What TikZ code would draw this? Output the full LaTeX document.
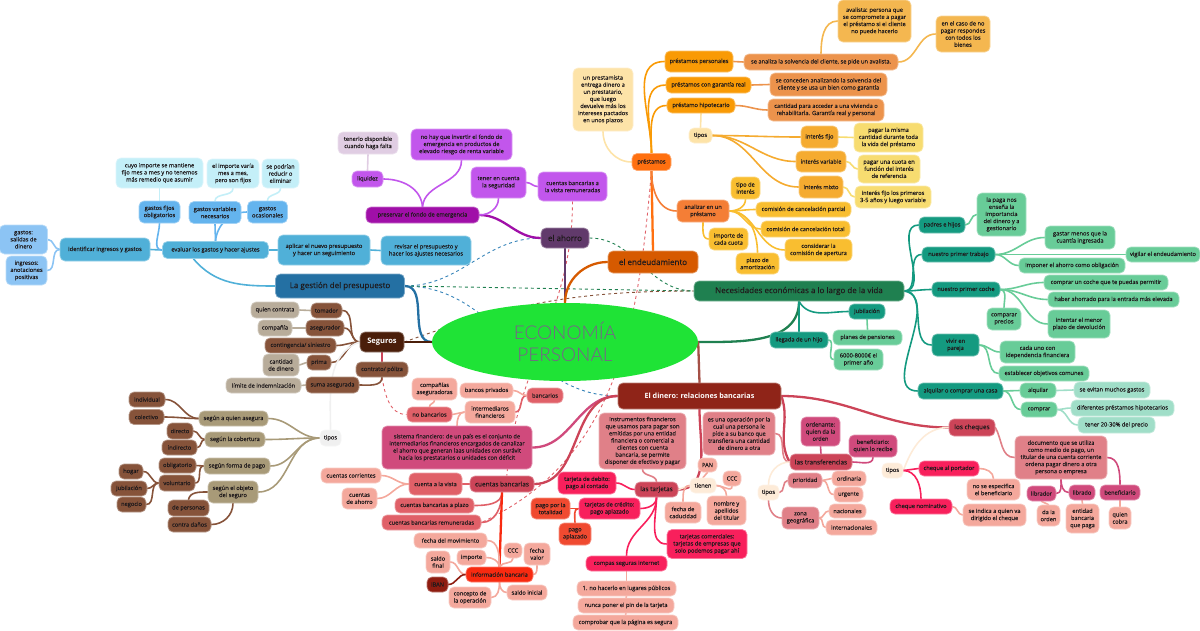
\documentclass[tikz,border=0pt]{standalone}
\usepackage{fontspec}
\setmainfont[UprightFeatures={FakeBold=0.08}]{Open Sans}
\newfontfamily\handfont{Lato Light}
\usetikzlibrary{backgrounds,shapes.geometric}
% colours
\definecolor{ink}{HTML}{1F1A1C}
\definecolor{gesA}{HTML}{2470A3}\definecolor{gesB}{HTML}{50B0D8}\definecolor{gesC}{HTML}{64B4EE}
\definecolor{gesD}{HTML}{8CC4F4}\definecolor{gesE}{HTML}{C4EFF8}
\definecolor{ahoA}{HTML}{613A6B}\definecolor{ahoB}{HTML}{A00FA8}\definecolor{ahoC}{HTML}{C256EC}\definecolor{ahoD}{HTML}{E0CDE3}
\definecolor{endA}{HTML}{D65A00}\definecolor{endB}{HTML}{FF7010}\definecolor{endC}{HTML}{F99A05}\definecolor{endD}{HTML}{EC934C}
\definecolor{endE}{HTML}{F4B750}\definecolor{endF}{HTML}{FDE3A8}\definecolor{endG}{HTML}{F5AB30}\definecolor{endH}{HTML}{F7DC70}
\definecolor{endI}{HTML}{F47E36}\definecolor{endJ}{HTML}{F9BE30}
\definecolor{necA}{HTML}{1F8050}\definecolor{necB}{HTML}{149A80}\definecolor{necC}{HTML}{68CC98}\definecolor{necD}{HTML}{A0DEC8}
\definecolor{segA}{HTML}{4A1E0A}\definecolor{segB}{HTML}{86533A}\definecolor{segC}{HTML}{B8AC9A}\definecolor{segD}{HTML}{A89A78}\definecolor{segE}{HTML}{F0F0F0}
\definecolor{dinA}{HTML}{8F2418}\definecolor{dinB}{HTML}{D04A7C}\definecolor{dinC}{HTML}{E06068}\definecolor{dinD}{HTML}{F4A89C}
\definecolor{dinE}{HTML}{CC4458}\definecolor{dinF}{HTML}{F82A10}\definecolor{dinG}{HTML}{8E1C10}\definecolor{dinH}{HTML}{F8205C}
\definecolor{dinI}{HTML}{F04A30}\definecolor{dinJ}{HTML}{E08088}\definecolor{dinK}{HTML}{FDEBD8}
\definecolor{centro}{HTML}{1FE336}\definecolor{centrotxt}{HTML}{7B5E8C}
\tikzset{
  box/.style={fill=#1, draw=#1!60!white, line width=0.7, rounded corners=5, inner sep=0, align=center, text=ink,
    font=\fontsize{5.7}{7.1}\selectfont},
  sz/.style 2 args={minimum width=#1, minimum height=#2},
  big/.style={font=\fontsize{8}{10}\selectfont},
  mid/.style={font=\fontsize{6.4}{8}\selectfont},
  lk/.style={draw=#1, line width=1.6, line cap=round},
  thk/.style={line width=2.3},
  cross/.style={draw=#1, line width=0.9, dash pattern=on 3pt off 3pt},
}
\begin{document}
\begin{tikzpicture}[x=1pt,y=-1pt]
    \useasboundingbox (0,0) rectangle (1200,630);
    \node[ellipse, fill=centro, inner sep=0, minimum width=266, minimum height=78, align=center, text=centrotxt,
      font=\handfont\fontsize{19}{22}\selectfont] (econ) at (565,342) {ECONOMÍA\\PERSONAL};
    % La gestion del presupuesto
    \node[box=gesA, big, sz={129}{24}] (gestion) at (340,286) {La gestión del presupuesto};
    \node[box=gesB, sz={106}{17}] (evaluar) at (215.5,250) {evaluar los gastos y hacer ajustes};
    \node[box=gesB, sz={90}{23}] (identificar) at (105,249.5) {identificar ingresos y gastos};
    \node[box=gesD, sz={48}{29}] (salidas) at (23.5,239.5) {gastos:\\salidas de\\dinero};
    \node[box=gesD, sz={41}{29}] (ingresos) at (26.5,270.5) {ingresos:\\anotaciones\\positivas};
    \node[box=gesC, sz={41}{22}] (gfijos) at (159.5,212) {gastos fijos\\obligatorios};
    \node[box=gesC, sz={52}{22}] (gvariables) at (215,212.5) {gastos variables\\necesarios};
    \node[box=gesC, sz={40}{22}] (gocasion) at (267.5,212) {gastos\\ocasionales};
    \node[box=gesE, sz={87}{30}] (cuyo) at (159.5,173) {cuyo importe se mantiene\\fijo mes a mes y no tenemos\\más remedio que asumir};
    \node[box=gesE, sz={52}{29}] (varia) at (233,173.5) {el importe varía\\mes a mes,\\pero son fijos};
    \node[box=gesE, sz={37}{29}] (reducir) at (280.5,173.5) {se podrían\\reducir o\\eliminar};
    \node[box=gesB, sz={92}{30}] (aplicar) at (324,250) {aplicar el nuevo presupuesto\\y hacer un seguimiento};
    \node[box=gesB, sz={90}{29}] (revisar) at (426,250.5) {revisar el presupuesto y\\hacer los ajustes necesarios};
    % el ahorro
    \node[box=ahoA, big, sz={48}{20}] (ahorro) at (565,238) {el ahorro};
    \node[box=ahoB, sz={113}{16}] (preservar) at (422.5,215) {preservar el fondo de emergencia};
    \node[box=ahoC, sz={31}{16}] (liquidez) at (367.5,179) {liquidez};
    \node[box=ahoD, sz={60}{22}] (tenerlo) at (368,143) {tenerlo disponible\\cuando haga falta};
    \node[box=ahoC, sz={101}{31}] (nohay) at (461.5,144.5) {no hay que invertir el fondo de\\emergencia en productos de\\elevado riesgo de renta variable};
    \node[box=ahoC, sz={55}{31}] (seguridad) at (498.5,182.5) {tener en cuenta\\la seguridad};
    \node[box=ahoC, sz={69}{29}] (remun) at (572.5,186.5) {cuentas bancarias a\\la vista remuneradas};
    % el endeudamiento
    \node[box=endA, big, sz={90}{22}] (endeud) at (653,262) {el endeudamiento};
    \node[box=endB, sz={39}{17}] (prestamos) at (651.5,162) {préstamos};
    \node[box=endF, sz={60}{63}] (prestamista) at (603,99.5) {un prestamista\\entrega dinero a\\un prestatario,\\que luego\\devuelve más los\\intereses pactados\\en unos plazos};
    \node[box=endC, sz={68}{21}] (ppersonal) at (699,61.5) {préstamos personales};
    \node[box=endC, sz={85}{16}] (pgarantia) at (708.5,85) {préstamos con garantía real};
    \node[box=endC, sz={68}{15}] (phipo) at (701,105.5) {préstamo hipotecario};
    \node[box=endD, sz={154}{16}] (solvencia) at (821,62) {se analiza la solvencia del cliente, se pide un avalista.};
    \node[box=endE, sz={73}{42}] (avalista) at (874.5,21) {avalista: persona que\\se compromete a pagar\\el préstamo si el cliente\\no puede hacerlo};
    \node[box=endE, sz={54}{36}] (enelcaso) at (963,34) {en el caso de no\\pagar respondes\\con todos los\\bienes};
    \node[box=endD, sz={117}{23}] (conceden) at (828.5,84.5) {se conceden analizando la solvencia del\\cliente y se usa un bien como garantía};
    \node[box=endD, sz={116}{22}] (acceder) at (826,110) {cantidad para acceder a una vivienda o\\rehabilitarla. Garantía real y personal};
    \node[box=endF, sz={23}{15}] (tiposp) at (700.5,135.5) {tipos};
    \node[box=endG, sz={37}{22}] (ifijo) at (819.5,137) {interés fijo};
    \node[box=endG, sz={50}{21}] (ivariable) at (821,161.5) {interés variable};
    \node[box=endG, sz={44}{22}] (imixto) at (821,187) {interés mixto};
    \node[box=endH, sz={69}{29}] (misma) at (888.5,137.5) {pagar la misma\\cantidad durante toda\\la vida del préstamo};
    \node[box=endH, sz={62}{28}] (cuota) at (889,169) {pagar una cuota en\\función del interés\\de referencia};
    \node[box=endH, sz={76}{22}] (primeros) at (893,197) {interés fijo los primeros\\3-5 años y luego variable};
    \node[box=endI, sz={52}{22}] (analizar) at (703,211) {analizar en un\\préstamo};
    \node[box=endJ, sz={29}{22}] (tipoint) at (745.5,188) {tipo de\\interés};
    \node[box=endJ, sz={95}{15}] (cparcial) at (803.5,209.5) {comisión de cancelación parcial};
    \node[box=endJ, sz={89}{16}] (ctotal) at (805.5,229) {comisión de cancelación total};
    \node[box=endJ, sz={67}{22}] (capertura) at (818.5,250) {considerar la\\comisión de apertura};
    \node[box=endJ, sz={39}{22}] (importe) at (728.5,239) {importe de\\cada cuota};
    \node[box=endJ, sz={43}{21}] (plazo) at (757.5,263.5) {plazo de\\amortización};
    % Necesidades
    \node[box=necA, big, sz={210}{20}] (neces) at (799,291) {Necesidades económicas a lo largo de la vida};
    \node[box=necB, sz={46}{16}] (padres) at (942,225) {padres e hijos};
    \node[box=necC, sz={49}{43}] (lapaga) at (1001.5,214.5) {la paga nos\\enseña la\\importancia\\del dinero y a\\gestionarlo};
    \node[box=necB, sz={73}{15}] (ntrabajo) at (958.5,254.5) {nuestro primer trabajo};
    \node[box=necC, sz={70}{23}] (gastar) at (1080,237.5) {gastar menos que la\\cuantía ingresada};
    \node[box=necC, sz={74}{15}] (vigilar) at (1163,254.5) {vigilar el endeudamiento};
    \node[box=necC, sz={106}{15}] (imponer) at (1072,265.5) {imponer el ahorro como obligación};
    \node[box=necB, sz={68}{15}] (ncoche) at (966,289.5) {nuestro primer coche};
    \node[box=necC, sz={124}{15}] (permitir) at (1106,282.5) {comprar un coche que te puedas permitir};
    \node[box=necC, sz={131}{15}] (haber) at (1113.5,299.5) {haber ahorrado para la entrada más elevada};
    \node[box=necC, sz={62}{28}] (intentar) at (1079,324) {intentar el menor\\plazo de devolución};
    \node[box=necC, sz={34}{22}] (precios) at (1004,319) {comparar\\precios};
    \node[box=necB, sz={47}{22}] (pareja) at (955.5,345) {vivir en\\pareja};
    \node[box=necC, sz={75}{22}] (cadauno) at (1037.5,352) {cada uno con\\idependencia financiera};
    \node[box=necC, sz={90}{15}] (objetivos) at (1044,373.5) {establecer objetivos comunes};
    \node[box=necB, sz={85}{16}] (casa) at (960.5,391) {alquilar o comprar una casa};
    \node[box=necC, sz={36}{15}] (alquilar) at (1038,390.5) {alquilar};
    \node[box=necD, sz={76}{16}] (evitan) at (1112,390) {se evitan muchos gastos};
    \node[box=necC, sz={36}{15}] (comprar) at (1039,409.5) {comprar};
    \node[box=necD, sz={103}{16}] (hipotecarios) at (1122.5,408) {diferentes préstamos hipotecarios};
    \node[box=necD, sz={77}{16}] (veinte) at (1116.5,425) {tener 20-30\% del precio};
    \node[box=necB, sz={36}{15}] (jubilacion) at (867,311.5) {jubilación};
    \node[box=necC, sz={69}{15}] (planes) at (867.5,337.5) {planes de pensiones};
    \node[box=necB, sz={58}{16}] (hijo) at (799,340) {llegada de un hijo};
    \node[box=necC, sz={49}{21}] (seismil) at (858.5,359.5) {6000-8000€ el\\primer año};
    % Seguros
    \node[box=segA, sz={44}{20}, text=white, font=\fontsize{7.5}{9}\bfseries\selectfont] (seguros) at (382,342) {Seguros};
    \node[box=segB, sz={31}{15}] (tomador) at (326.5,310.5) {tomador};
    \node[box=segC, sz={48}{16}] (contrata) at (275,310) {quien contrata};
    \node[box=segB, sz={38}{16}] (asegurador) at (325,328) {asegurador};
    \node[box=segC, sz={34}{16}] (compania) at (275,328) {compañía};
    \node[box=segB, sz={71}{15}] (siniestro) at (300.5,345.5) {contingencia/ siniestro};
    \node[box=segB, sz={24}{15}] (prima) at (319,362.5) {prima};
    \node[box=segC, sz={36}{22}] (cantidad) at (281,365) {cantidad\\de dinero};
    \node[box=segB, sz={52}{15}] (contrato) at (382,369.5) {contrato/ póliza};
    \node[box=segB, sz={53}{16}] (suma) at (332.5,385) {suma asegurada};
    \node[box=segC, sz={75}{15}] (limite) at (263.5,385.5) {límite de indemnización};
    \node[box=segE, sz={21}{16}] (tiposs) at (330.5,438) {tipos};
    \node[box=segD, sz={69}{15}] (sasegura) at (233.5,418.5) {según a quien asegura};
    \node[box=segB, sz={36}{15}] (individual) at (147,399.5) {individual};
    \node[box=segB, sz={35}{15}] (colectivo) at (146.5,417) {colectivo};
    \node[box=segD, sz={60}{15}] (scobertura) at (235,439.5) {según la cobertura};
    \node[box=segB, sz={26}{16}] (directo) at (180,431) {directo};
    \node[box=segB, sz={35}{15}] (indirecto) at (179.5,447.5) {indirecto};
    \node[box=segD, sz={66}{16}] (sforma) at (237,466) {según forma de pago};
    \node[box=segB, sz={37}{15}] (obligatorio) at (177.5,465.5) {obligatorio};
    \node[box=segB, sz={36}{16}] (voluntario) at (177,483) {voluntario};
    \node[box=segB, sz={24}{15}] (hogar) at (131,471.5) {hogar};
    \node[box=segB, sz={36}{15}] (jubil) at (129,488.5) {jubilación};
    \node[box=segB, sz={29}{15}] (negocio) at (131.5,504.5) {negocio};
    \node[box=segD, sz={50}{22}] (sobjeto) at (233,492) {según el objeto\\del seguro};
    \node[box=segB, sz={41}{16}] (personas) at (188.5,508) {de personas};
    \node[box=segB, sz={43}{15}] (danos) at (189.5,524.5) {contra daños};
    % El dinero
    \node[box=dinA, sz={163}{26}, text=white, font=\fontsize{7.2}{9}\bfseries\selectfont] (dinero) at (699.5,396) {El dinero: relaciones bancarias};
    \node[box=dinB, sz={150}{43}] (sistema) at (457,447.5) {sistema financiero: de un país es el conjunto de\\intermediarios financieros encargados de canalizar\\el ahorro que generan laas unidades con surávit\\hacia los prestatarios o unidades con déficit};
    \node[box=dinC, sz={36}{15}] (bancarios) at (545,395.5) {bancarios};
    \node[box=dinD, sz={50}{22}] (intermed) at (490,412) {intermediaros\\financieros};
    \node[box=dinD, sz={53}{15}] (privados) at (486.5,390.5) {bancos privados};
    \node[box=dinC, sz={45}{15}] (nobanc) at (429.5,414.5) {no bancarios};
    \node[box=dinD, sz={45}{22}] (aseguradoras) at (434.5,389) {compañías\\aseguradoras};
    \node[box=dinE, mid, sz={64}{16}] (cbanc) at (502,484) {cuentas bancarias};
    \node[box=dinC, sz={53}{22}] (cvista) at (435.5,484) {cuenta a la vista};
    \node[box=dinD, sz={60}{15}] (corrientes) at (351,475.5) {cuentas corrientes};
    \node[box=dinD, sz={35}{21}] (cahorro) at (359.5,498.5) {cuentas\\de ahorro};
    \node[box=dinC, sz={79}{15}] (cplazo) at (434.5,505.5) {cuentas bancarias a plazo};
    \node[box=dinC, sz={99}{15}] (cremun) at (431.5,522.5) {cuentas bancarias remuneradas};
    \node[box=dinF, sz={67}{15}] (info) at (499.5,574.5) {información bancaria};
    \node[box=dinD, sz={73}{15}] (movimiento) at (450.5,540.5) {fecha del movimiento};
    \node[box=dinD, sz={29}{15}] (cuantia) at (471.5,557.5) {importe};
    \node[box=dinD, sz={24}{22}] (sfinal) at (438,562) {saldo\\final};
    \node[box=dinG, sz={21}{15}] (iban) at (437.5,584.5) {IBAN};
    \node[box=dinD, sz={42}{21}] (concepto) at (470,597.5) {concepto de\\la operación};
    \node[box=dinD, sz={40}{15}] (sinicial) at (527,592.5) {saldo inicial};
    \node[box=dinD, sz={18}{15}] (cccuno) at (513,550.5) {CCC};
    \node[box=dinD, sz={26}{22}] (fvalor) at (537,554) {fecha\\valor};
    \node[box=dinE, mid, sz={43}{15}] (tarjetas) at (656.5,489.5) {las tarjetas};
    \node[box=dinH, sz={58}{22}] (debito) at (587,483) {tarjeta de debito:\\pago al contado};
    \node[box=dinH, sz={61}{21}] (credito) at (609.5,508.5) {tarjetas de crédito:\\pago aplazado};
    \node[box=dinI, sz={39}{21}] (totalidad) at (550.5,508.5) {pago por la\\totalidad};
    \node[box=dinI, sz={32}{22}] (aplazado) at (575,534) {pago\\aplazado};
    \node[box=dinH, sz={80}{29}] (comerciales) at (707,544) {tarjetas comerciales:\\tarjetas de empresas que\\solo podemos pagar ahí};
    \node[box=dinH, sz={81}{15}] (compras) at (626.5,563.5) {compas seguras internet};
    \node[box=dinD, sz={99}{15}] (publicos) at (626.5,588.5) {1. no hacerlo en lugares públicos};
    \node[box=dinD, sz={96}{15}] (nunca) at (626,605.5) {nunca poner el pin de la tarjeta};
    \node[box=dinD, sz={105}{15}] (comprobar) at (625.5,622.5) {comprobar que la página es segura};
    \node[box=dinJ, sz={87}{56}] (instrumentos) at (642.5,441) {instrumentos financieros\\que usamos para pagar son\\emitidas por una entidad\\financiera o comercial a\\clientes con cuenta\\bancaria, se permite\\disponer de efectivo y pagar};
    \node[box=dinK, sz={26}{15}] (tienen) at (703,485.5) {tienen};
    \node[box=dinD, sz={19}{14}] (pan) at (707.5,465) {PAN};
    \node[box=dinD, sz={18}{15}] (cccdos) at (732,478.5) {CCC};
    \node[box=dinD, sz={36}{21}] (caducidad) at (683,512.5) {fecha de\\caducidad};
    \node[box=dinD, sz={39}{29}] (nombre) at (726.5,510.5) {nombre y\\apellidos\\del titular};
    \node[box=dinJ, sz={72}{43}] (operacion) at (739,433.5) {es una operación por la\\cual una persona le\\pide a su banco que\\transfiera una cantidad\\de dinero a otra};
    \node[box=dinE, mid, sz={62}{16}] (transf) at (821,462) {las transferencias};
    \node[box=dinB, sz={39}{29}] (ordenante) at (820.5,431.5) {ordenante:\\quien da la\\orden};
    \node[box=dinB, sz={48}{22}] (benefi) at (873,446) {beneficiario:\\quien lo recibe};
    \node[box=dinK, sz={21}{15}] (tipost) at (768.5,492.5) {tipos};
    \node[box=dinJ, sz={34}{15}] (prioridad) at (805,480.5) {prioridad};
    \node[box=dinD, sz={34}{15}] (ordinaria) at (849,478.5) {ordinaria};
    \node[box=dinD, sz={29}{15}] (urgente) at (848.5,494.5) {urgente};
    \node[box=dinJ, sz={37}{22}] (zona) at (800.5,518) {zona\\geográfica};
    \node[box=dinD, sz={37}{14}] (nacionales) at (847.5,511) {nacionales};
    \node[box=dinD, sz={51}{15}] (internac) at (851.5,527.5) {internacionales};
    \node[box=dinE, mid, sz={46}{17}] (cheques) at (972,427.5) {los cheques};
    \node[box=dinK, sz={21}{15}] (tiposc) at (892.5,470.5) {tipos};
    \node[box=dinH, sz={60}{15}] (portador) at (949,468.5) {cheque al portador};
    \node[box=dinD, sz={53}{21}] (noespec) at (993.5,489.5) {no se especifica\\el beneficiario};
    \node[box=dinH, sz={62}{15}] (nominativo) at (921,506.5) {cheque nominativo};
    \node[box=dinD, sz={63}{22}] (indica) at (994.5,515) {se indica a quien va\\dirigido el cheque};
    \node[box=dinJ, sz={92}{43}] (documento) at (1061,457.5) {documento que se utiliza\\como medio de pago, un\\titular de una cuenta corriente\\ordena pagar dinero a otra\\persona o empresa};
    \node[box=dinB, sz={29}{15}] (librador) at (1041.5,493.5) {librador};
    \node[box=dinD, sz={23}{21}] (daorden) at (1048.5,515.5) {da la\\orden};
    \node[box=dinB, sz={26}{15}] (librado) at (1082,492.5) {librado};
    \node[box=dinD, sz={33}{29}] (entidad) at (1082.5,518.5) {entidad\\bancaria\\que paga};
    \node[box=dinB, sz={40}{15}] (benefc) at (1120,492.5) {beneficiario};
    \node[box=dinD, sz={22}{22}] (cobra) at (1120,518) {quien\\cobra};
    \begin{scope}[on background layer]
    % dashed links between branches
        \draw[cross=gesA!70!gesC] (gestion.east) to[out=0,in=180] (ahorro.west);
        \draw[cross=gesA!70!gesC] (gestion.east) to[out=0,in=180] (dinero.west);
        \draw[cross=necA] (gestion.east) -- (neces.west);
        \draw[cross=necA] (ahorro.east) to[out=0,in=180] (neces.west);
        \draw[cross=segB] (seguros.east) to[out=20,in=180] (neces.west);
        \draw[cross=dinC] (remun.south) to[out=270,in=85] (cbanc.60);
        \draw[cross=dinC] (prestamos.south) to[out=265,in=25] (cremun.east);
        \draw[cross=dinC] (contrato.south) to[out=280,in=180] (nobanc.west);
    % gestion
        \draw[lk=gesA, thk] (econ.west) to[out=180,in=0] (gestion.east);
        \draw[lk=gesB] (gestion.west) to[out=180,in=-50] ([xshift=-22pt]evaluar.south);
        \draw[lk=gesB] (identificar.east) -- (evaluar.west);
        \draw[lk=gesB] (evaluar.east) -- (aplicar.west);
        \draw[lk=gesB] (aplicar.east) -- (revisar.west);
        \draw[lk=gesD] (identificar.west) to[out=180,in=0] (salidas.east);
        \draw[lk=gesD] (identificar.west) to[out=180,in=0] (ingresos.east);
        \draw[lk=gesC] (evaluar.west) to[out=180,in=270] (gfijos.south);
        \draw[lk=gesC] (evaluar.north) -- (gvariables.south);
        \draw[lk=gesC] (evaluar.north) to[out=85,in=180] (gocasion.west);
        \draw[lk=gesE] (gfijos.north) -- (cuyo.south);
        \draw[lk=gesE] (gvariables.north) to[out=90,in=270] (varia.south);
        \draw[lk=gesE] (gocasion.north) to[out=90,in=270] (reducir.south);
    % ahorro
        \draw[lk=ahoA, thk] (econ.north) -- (ahorro.south);
        \draw[lk=ahoB, thk] (ahorro.west) to[out=180,in=0] (preservar.east);
        \draw[lk=ahoC] (preservar.north) to[out=95,in=0] (liquidez.east);
        \draw[lk=ahoC] (preservar.north) to[out=85,in=270] (nohay.south);
        \draw[lk=ahoC] (preservar.east) to[out=0,in=270] (seguridad.south);
        \draw[lk=ahoC] (seguridad.east) to[out=0,in=180] (remun.west);
        \draw[lk=ahoD] (liquidez.north) -- (tenerlo.south);
    % endeudamiento
        \draw[lk=endA, thk] (econ.north) to[out=90,in=180] (endeud.west);
        \draw[lk=endB, thk] (endeud.north) -- (prestamos.south);
        \draw[lk=endF] (prestamos.west) to[out=180,in=270] (prestamista.south);
        \draw[lk=endC] (prestamos.north) to[out=90,in=180] (ppersonal.west);
        \draw[lk=endC] (prestamos.north) to[out=90,in=180] (pgarantia.west);
        \draw[lk=endC] (prestamos.north) to[out=90,in=180] (phipo.west);
        \draw[lk=endD] (ppersonal.east) -- (solvencia.west);
        \draw[lk=endE] (solvencia.north) to[out=90,in=180] (avalista.west);
        \draw[lk=endE] (solvencia.east) to[out=0,in=180] (enelcaso.west);
        \draw[lk=endD] (pgarantia.east) -- (conceden.west);
        \draw[lk=endD] (phipo.east) to[out=0,in=180] (acceder.west);
        \draw[lk=endF] (phipo.south) -- (tiposp.north);
        \draw[lk=endG] (tiposp.east) to[out=0,in=180] (ifijo.west);
        \draw[lk=endG] (tiposp.east) to[out=0,in=180] (ivariable.west);
        \draw[lk=endG] (tiposp.east) to[out=0,in=180] (imixto.west);
        \draw[lk=endH] (ifijo.east) -- (misma.west);
        \draw[lk=endH] (ivariable.east) to[out=0,in=180] (cuota.west);
        \draw[lk=endH] (imixto.east) to[out=0,in=180] (primeros.west);
        \draw[lk=endI] (prestamos.south) to[out=270,in=180] (analizar.west);
        \draw[lk=endJ] (analizar.east) to[out=0,in=270] (tipoint.south);
        \draw[lk=endJ] (analizar.east) to[out=0,in=180] (cparcial.west);
        \draw[lk=endJ] (analizar.east) to[out=0,in=180] (ctotal.west);
        \draw[lk=endJ] (analizar.east) to[out=0,in=180] (capertura.west);
        \draw[lk=endJ] (analizar.east) to[out=0,in=90] (plazo.north);
        \draw[lk=endJ] (analizar.south) to[out=270,in=180] (importe.west);
    % necesidades
        \draw[lk=necA, thk] (econ.east) to[out=0,in=270] (neces.south);
        \draw[lk=necB] (neces.south) -- (hijo.north);
        \draw[lk=necB] (neces.south) to[out=-60,in=180] (jubilacion.west);
        \draw[lk=necC] (jubilacion.south) -- (planes.north);
        \draw[lk=necC] (hijo.east) to[out=0,in=180] (seismil.west);
        \draw[lk=necB] (neces.east) to[out=0,in=180] (padres.west);
        \draw[lk=necB] (neces.east) to[out=0,in=180] (ntrabajo.west);
        \draw[lk=necB] (neces.east) to[out=0,in=180] (ncoche.west);
        \draw[lk=necB] (neces.east) to[out=0,in=180] (pareja.west);
        \draw[lk=necB] (neces.east) to[out=-10,in=180] (casa.west);
        \draw[lk=necC] (padres.east) to[out=0,in=180] (lapaga.west);
        \draw[lk=necC] (ntrabajo.east) to[out=0,in=180] (gastar.west);
        \draw[lk=necC] (ntrabajo.east) -- (vigilar.west);
        \draw[lk=necC] (ntrabajo.east) to[out=0,in=180] (imponer.west);
        \draw[lk=necC] (ncoche.east) to[out=0,in=180] (permitir.west);
        \draw[lk=necC] (ncoche.east) to[out=0,in=180] (haber.west);
        \draw[lk=necC] (ncoche.east) to[out=0,in=180] (intentar.west);
        \draw[lk=necC] (ncoche.east) to[out=-10,in=90] (precios.north);
        \draw[lk=necC] (pareja.east) to[out=0,in=180] (cadauno.west);
        \draw[lk=necC] (pareja.east) to[out=0,in=180] (objetivos.west);
        \draw[lk=necC] (casa.east) -- (alquilar.west);
        \draw[lk=necC] (casa.east) to[out=0,in=180] (comprar.west);
        \draw[lk=necD] (alquilar.east) -- (evitan.west);
        \draw[lk=necD] (comprar.east) to[out=0,in=180] (hipotecarios.west);
        \draw[lk=necD] (comprar.east) to[out=0,in=180] (veinte.west);
    % seguros
        \draw[lk=segA, thk] (econ.west) -- (seguros.east);
        \draw[lk=segB] (seguros.west) to[out=180,in=0] (tomador.east);
        \draw[lk=segB] (seguros.west) to[out=180,in=0] (asegurador.east);
        \draw[lk=segB] (seguros.west) to[out=180,in=0] (siniestro.east);
        \draw[lk=segB] (seguros.west) to[out=180,in=0] (prima.east);
        \draw[lk=dinE] (seguros.south) -- (contrato.north);
        \draw[lk=segB] (contrato.south) to[out=270,in=0] (suma.east);
        \draw[lk=segE] (seguros.west) to[out=200,in=90] (tiposs.north);
        \draw[lk=segC] (contrata.east) -- (tomador.west);
        \draw[lk=segC] (compania.east) -- (asegurador.west);
        \draw[lk=segC] (cantidad.east) to[out=0,in=180] (prima.west);
        \draw[lk=segC] (limite.east) -- (suma.west);
        \draw[lk=segD] (tiposs.west) to[out=180,in=0] (sasegura.east);
        \draw[lk=segD] (tiposs.west) to[out=180,in=0] (scobertura.east);
        \draw[lk=segD] (tiposs.west) to[out=180,in=0] (sforma.east);
        \draw[lk=segD] (tiposs.west) to[out=180,in=0] (sobjeto.east);
        \draw[lk=segB] (sasegura.west) to[out=180,in=0] (individual.east);
        \draw[lk=segB] (sasegura.west) to[out=180,in=0] (colectivo.east);
        \draw[lk=segB] (scobertura.west) to[out=180,in=0] (directo.east);
        \draw[lk=segB] (scobertura.west) to[out=180,in=0] (indirecto.east);
        \draw[lk=segB] (sforma.west) to[out=180,in=0] (obligatorio.east);
        \draw[lk=segB] (sforma.west) to[out=180,in=0] (voluntario.east);
        \draw[lk=segB] (voluntario.west) to[out=180,in=0] (hogar.east);
        \draw[lk=segB] (voluntario.west) to[out=180,in=0] (jubil.east);
        \draw[lk=segB] (voluntario.west) to[out=180,in=0] (negocio.east);
        \draw[lk=segB] (sobjeto.west) to[out=180,in=80] (personas.north);
        \draw[lk=segB] (sobjeto.south) to[out=270,in=0] (danos.east);
    % dinero
        \draw[lk=dinA!80!white, thk] (econ.east) -- (dinero.north);
        \draw[lk=dinB, thk] (dinero.west) to[out=180,in=0] (sistema.east);
        \draw[lk=dinE, thk] (dinero.west) to[out=180,in=0] (cbanc.east);
        \draw[lk=dinE, thk] (dinero.south) to[out=270,in=0] (tarjetas.east);
        \draw[lk=dinE, thk] (dinero.east) to[out=-70,in=120] (transf.west);
        \draw[lk=dinE, thk] (dinero.east) to[out=0,in=180] (cheques.west);
        \draw[lk=dinD] (sistema.north) to[out=90,in=180] (intermed.west);
        \draw[lk=dinC] (intermed.east) to[out=0,in=180] (bancarios.west);
        \draw[lk=dinD] (privados.east) to[out=0,in=180] (bancarios.west);
        \draw[lk=dinD] (nobanc.east) -- (intermed.west);
        \draw[lk=dinD] (aseguradoras.south) to[out=270,in=90] (nobanc.north);
        \draw[lk=dinC] (cbanc.west) -- (cvista.east);
        \draw[lk=dinD] (cvista.west) to[out=180,in=0] (corrientes.east);
        \draw[lk=dinD] (cvista.west) to[out=180,in=0] (cahorro.east);
        \draw[lk=dinC] (cbanc.south) to[out=270,in=0] (cplazo.east);
        \draw[lk=dinC] (cbanc.south) to[out=270,in=0] (cremun.east);
        \draw[lk=dinF, thk] (cbanc.south) -- (info.north);
        \draw[lk=dinD] (movimiento.east) to[out=0,in=90] (info.north);
        \draw[lk=dinD] (cuantia.east) to[out=0,in=100] (info.north);
        \draw[lk=dinD] (sfinal.east) to[out=0,in=180] (info.west);
        \draw[lk=dinG] (iban.east) to[out=0,in=180] (info.west);
        \draw[lk=dinD] (concepto.east) to[out=0,in=270] (info.south);
        \draw[lk=dinD] (sinicial.west) to[out=180,in=270] (info.south);
        \draw[lk=dinD] (cccuno.south) to[out=270,in=60] (info.north);
        \draw[lk=dinD] (fvalor.south) to[out=270,in=0] (info.east);
        \draw[lk=dinH] (tarjetas.west) to[out=180,in=0] (debito.east);
        \draw[lk=dinH] (tarjetas.south) to[out=270,in=0] (credito.east);
        \draw[lk=dinH] (tarjetas.south) to[out=270,in=180] (comerciales.west);
        \draw[lk=dinH] (tarjetas.south) to[out=270,in=90] (compras.north);
        \draw[lk=dinI] (credito.west) -- (totalidad.east);
        \draw[lk=dinI] (credito.west) to[out=180,in=90] (aplazado.north);
        \draw[lk=dinD] (compras.south) -- (publicos.north);
        \draw[lk=dinD] (publicos.south) -- (nunca.north);
        \draw[lk=dinD] (nunca.south) -- (comprobar.north);
        \draw[lk=dinJ] (instrumentos.south) to[out=270,in=90] (tarjetas.north);
        \draw[lk=dinK] (tarjetas.east) -- (tienen.west);
        \draw[lk=dinD] (tienen.north) -- (pan.south);
        \draw[lk=dinD] (tienen.east) to[out=0,in=270] (cccdos.south);
        \draw[lk=dinD] (tienen.east) to[out=0,in=90] (nombre.north);
        \draw[lk=dinD] (tienen.west) to[out=180,in=90] (caducidad.north);
        \draw[lk=dinJ] (operacion.east) to[out=0,in=180] (transf.west);
        \draw[lk=dinB] (transf.north) -- (ordenante.south);
        \draw[lk=dinB] (transf.east) to[out=0,in=270] (benefi.south);
        \draw[lk=dinK] (transf.west) to[out=180,in=90] (tipost.north);
        \draw[lk=dinJ] (tipost.east) to[out=0,in=180] (prioridad.west);
        \draw[lk=dinJ] (tipost.south) to[out=270,in=180] (zona.west);
        \draw[lk=dinD] (prioridad.east) to[out=0,in=180] (ordinaria.west);
        \draw[lk=dinD] (prioridad.east) to[out=0,in=180] (urgente.west);
        \draw[lk=dinD] (zona.east) to[out=0,in=180] (nacionales.west);
        \draw[lk=dinD] (zona.east) to[out=0,in=180] (internac.west);
        \draw[lk=dinK] (cheques.west) to[out=180,in=70] (tiposc.east);
        \draw[lk=dinH] (tiposc.east) -- (portador.west);
        \draw[lk=dinH] (tiposc.east) to[out=0,in=90] (nominativo.north);
        \draw[lk=dinD] (portador.east) to[out=0,in=90] (noespec.north);
        \draw[lk=dinD] (nominativo.east) to[out=0,in=180] (indica.west);
        \draw[lk=dinJ] (cheques.east) to[out=-60,in=180] (documento.west);
        \draw[lk=dinB] (documento.south) to[out=270,in=0] (librador.east);
        \draw[lk=dinB] (documento.south) to[out=270,in=180] (librado.west);
        \draw[lk=dinB] (documento.east) to[out=0,in=90] (benefc.north);
        \draw[lk=dinD] (librador.south) -- (daorden.north);
        \draw[lk=dinD] (librado.south) -- (entidad.north);
        \draw[lk=dinD] (benefc.south) -- (cobra.north);
    \end{scope}
\end{tikzpicture}
\end{document}
